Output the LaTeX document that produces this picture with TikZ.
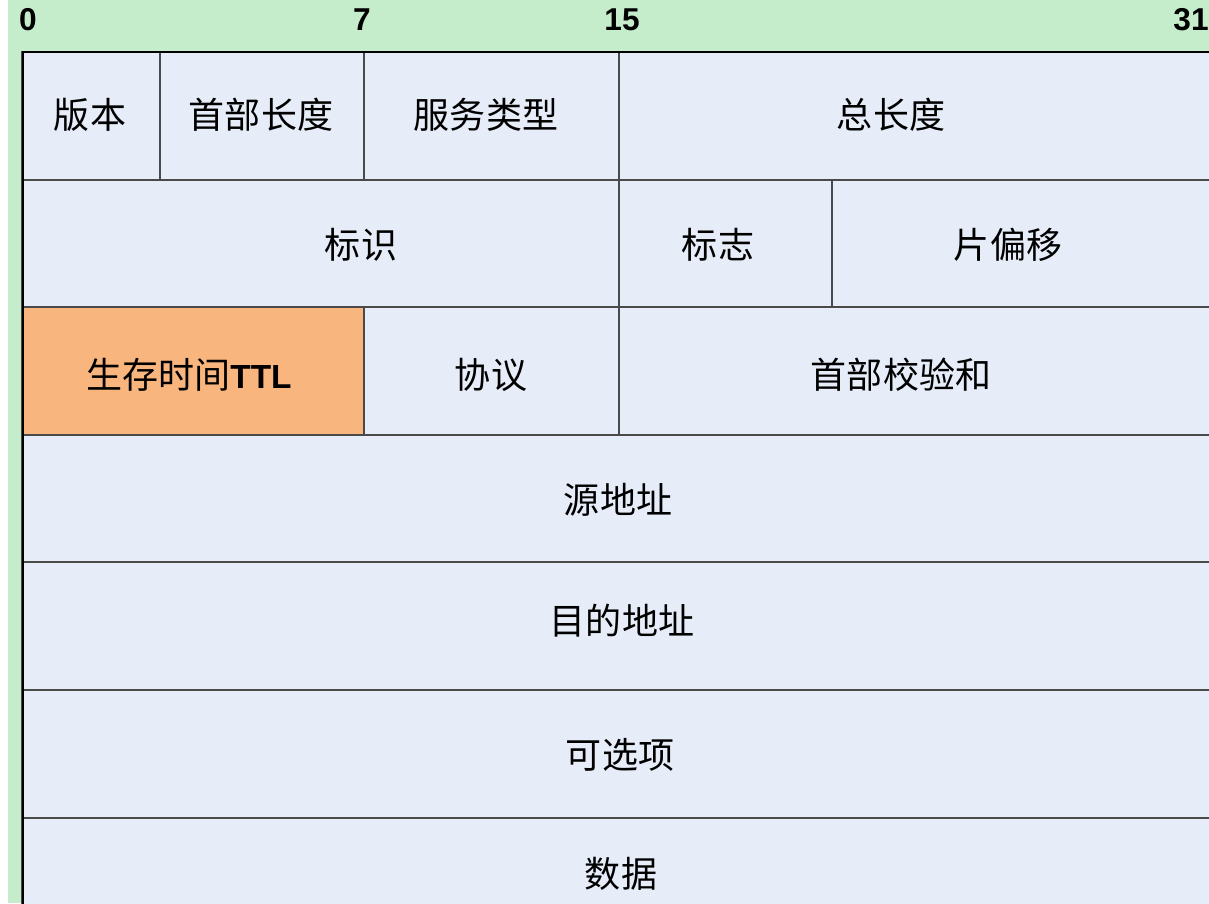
\documentclass[tikz,border=0pt]{standalone}
\usepackage{fontspec}
\setmainfont{Liberation Sans}
\newfontfamily\cjk{Noto Sans CJK SC}
\usetikzlibrary{positioning}
\definecolor{bggreen}{HTML}{C6EDCB}
\definecolor{cellblue}{HTML}{E6EDF8}
\definecolor{ttlorange}{HTML}{F8B57D}
\definecolor{gridgray}{HTML}{4A4A4A}
\tikzset{
  cell/.style={fill=cellblue, draw=gridgray, line width=1.1pt},
  field/.style={font=\cjk\fontsize{20.5}{24}\selectfont, inner sep=0pt},
  bitno/.style={font=\bfseries\fontsize{18}{20}\selectfont, inner sep=0pt},
}
\begin{document}
\begin{tikzpicture}[x=0.02cm, y=-0.02cm]
    \useasboundingbox (0,0) rectangle (1209,903);
    \clip (0,0) rectangle (1209,903);

    % Background
    \fill[white] (0,0) rectangle (1209,903);
    \fill[bggreen] (8,0) rectangle (1209,903);

    % Bit numbers
    \node[bitno] (bit0) at (28,20) {0};
    \node[bitno] (bit7) at (362,20) {7};
    \node[bitno] (bit15) at (622,20) {15};
    \node[bitno] (bit31) at (1191,20) {31};

    % Cells
    \foreach \xa/\ya/\xb/\yb in {22/52/160/180, 160/52/364/180, 364/52/619/180, 619/52/1240/180,
                                 22/180/619/307, 619/180/832/307, 832/180/1240/307,
                                 364/307/619/435, 619/307/1240/435,
                                 22/435/1240/562, 22/562/1240/690, 22/690/1240/818, 22/818/1240/950} {
        \draw[cell] (\xa,\ya) rectangle (\xb,\yb);
    }
    \draw[cell, fill=ttlorange] (22,307) rectangle (364,435);

    % Outer frame
    \draw[black, line width=1.7pt] (23,950) -- (23,52) -- (1240,52);

    % Field names
    \node[field] (ver) at (90,115) {版本};
    \node[field] (hlen) at (261,115) {首部长度};
    \node[field] (tos) at (486,115) {服务类型};
    \node[field] (tlen) at (891,115) {总长度};
    \node[field] (ident) at (361,245) {标识};
    \node[field] (flags) at (718,245) {标志};
    \node[field] (frag) at (1008,245) {片偏移};
    \node[field] (ttl) at (189,375) {生存时间{\rmfamily\bfseries\fontsize{19}{22}\selectfont TTL}};
    \node[field] (proto) at (491,375) {协议};
    \node[field] (csum) at (901,375) {首部校验和};
    \node[field] (src) at (618,500) {源地址};
    \node[field] (dst) at (622,621) {目的地址};
    \node[field] (opt) at (620,755) {可选项};
    \node[field] (data) at (621,874) {数据};

\end{tikzpicture}
\end{document}
